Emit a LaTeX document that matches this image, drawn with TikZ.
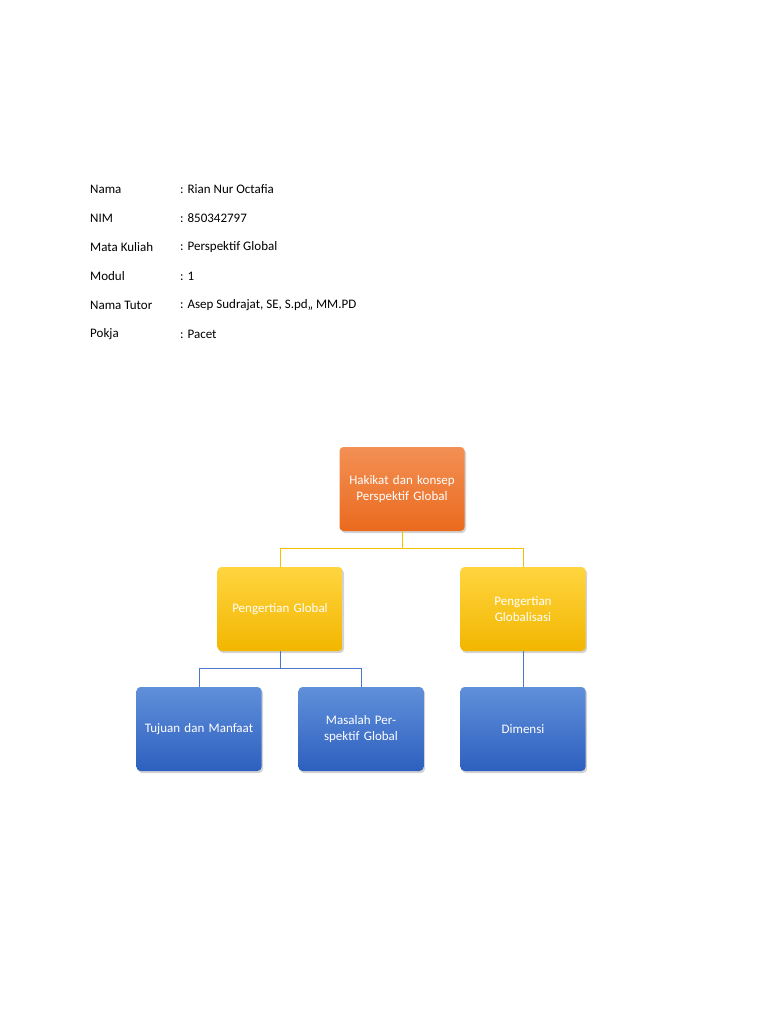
\documentclass[tikz,border=0pt]{standalone}
\usepackage{fontspec}
\setmainfont{Carlito}
\usetikzlibrary{shadows}
\definecolor{ot}{HTML}{F39055}\definecolor{ob}{HTML}{EA6A1E}
\definecolor{yt}{HTML}{FFD53F}\definecolor{yb}{HTML}{F2B600}
\definecolor{bt}{HTML}{6090DA}\definecolor{bb}{HTML}{2D5FBF}
\definecolor{yl}{HTML}{F5C000}\definecolor{bl}{HTML}{4A78C8}
\tikzset{
 box/.style={minimum width=125pt,minimum height=84pt,rounded corners=4pt,text width=115pt,align=center,text=white,font=\fontsize{13}{16}\selectfont,drop shadow={shadow xshift=1.5pt,shadow yshift=-2pt,opacity=.35}},
 obox/.style={box,top color=ot,bottom color=ob},
 ybox/.style={box,top color=yt,bottom color=yb},
 bbox/.style={box,top color=bt,bottom color=bb},
 lab/.style={anchor=west,font=\fontsize{13}{16}\selectfont,inner sep=0pt}
}
\begin{document}
\begin{tikzpicture}[x=1pt,y=-1pt]
\useasboundingbox (0,0) rectangle (768,1024);
\foreach \a/\b/\y [count=\i] in {Nama/: Rian Nur Octafia/189,NIM/: 850342797/218,Mata Kuliah/: Perspektif Global/247,Modul/: 1/276,Nama Tutor/{: Asep Sudrajat, SE, S.pd,, MM.PD}/305,Pokja/: Pacet/334}{
 \node[lab] (l\i) at (90,\y) {\a};
 \node[lab] (v\i) at (180,\y) {\b};
}
\node[obox] (top) at (402,489) {Hakikat dan konsep Perspektif Global};
\node[ybox] (pg) at (280,609) {Pengertian Global};
\node[ybox] (pgs) at (523,609) {Pengertian Globalisasi};
\node[bbox] (tm) at (199,729) {Tujuan dan Manfaat};
\node[bbox] (mp) at (361,729) {Masalah Perspektif Global};
\node[bbox] (dm) at (523,729) {Dimensi};
\draw[yl,thick] (top.south) -- ++(0,17) -| (pg.north);
\draw[yl,thick] (top.south) -- ++(0,17) -| (pgs.north);
\draw[bl,thick] (pg.south) -- ++(0,17) -| (tm.north);
\draw[bl,thick] (pg.south) -- ++(0,17) -| (mp.north);
\draw[bl,thick] (pgs.south) -- (dm.north);
\end{tikzpicture}
\end{document}
